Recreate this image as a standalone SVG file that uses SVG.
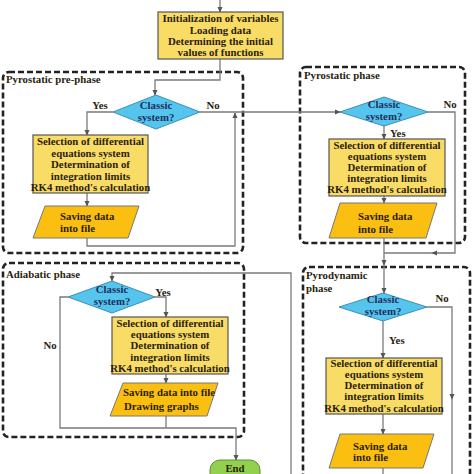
<svg xmlns="http://www.w3.org/2000/svg" width="474" height="474" viewBox="0 0 474 474">
<defs>
<style>
.t{font-family:"Liberation Serif","Times New Roman",serif;font-weight:bold;font-size:10.8px;fill:#2b1d0e;}
.c{text-anchor:middle;}
.dt{font-family:"Liberation Serif","Times New Roman",serif;font-weight:bold;font-size:10.8px;fill:#1f2d5c;text-anchor:middle;}
.box{fill:#f8dc66;stroke:#555;stroke-width:1.2;}
.io{fill:#fbbf12;stroke:#777;stroke-width:1;}
.dia{fill:#56c5ee;stroke:#3a8fb8;stroke-width:1;}
.phase{fill:none;stroke:#222;stroke-width:2.6;stroke-dasharray:6,3;}
.ln{fill:none;stroke:#7a7a7a;stroke-width:1.3;}
.ar{fill:none;stroke:#7a7a7a;stroke-width:1.3;marker-end:url(#ah);}
</style>
<marker id="ah" viewBox="0 0 8 8" refX="7" refY="4" markerWidth="6" markerHeight="6" orient="auto" markerUnits="userSpaceOnUse">
<path d="M0,0.5 L8,4 L0,7.5 z" fill="#555"/>
</marker>
</defs>
<rect width="474" height="474" fill="#ffffff"/>

<g id="phases">
<rect id="pyrostatic-pre-phase" class="phase" x="3" y="72" width="240" height="181" rx="6"/>
<rect id="pyrostatic-phase" class="phase" x="300" y="67" width="165" height="176" rx="6"/>
<rect id="adiabatic-phase" class="phase" x="3" y="263" width="241" height="174" rx="6"/>
<rect id="pyrodynamic-phase" class="phase" x="303" y="267" width="167" height="230" rx="6"/>
<text class="t" x="6" y="83">Pyrostatic pre-phase</text>
<text class="t" x="304" y="79">Pyrostatic phase</text>
<text class="t" x="6" y="278">Adiabatic phase</text>
<text class="t" x="306" y="279">Pyrodynamic</text>
<text class="t" x="306" y="292">phase</text>
</g>

<g id="connectors">
<path class="ar" d="M220,0 V12"/>
<path class="ar" d="M220,59 V80 H155 V95"/>
<path class="ar" d="M113,112 H87 V135"/>
<path class="ar" d="M87,193 V206"/>
<path class="ar" d="M87,238 V246 H235 V113"/>
<path class="ar" d="M200,112 H340"/>
<path class="ar" d="M384,126 V139"/>
<path class="ar" d="M384,196 V203"/>
<path class="ar" d="M428,112 H455 V253 H432"/>
<path class="ln" d="M433,253 H384"/>
<path class="ar" d="M384,238 V265"/>
<path class="ar" d="M384,264 V293"/>
<path class="ar" d="M427,307 H452 V399"/>
<path class="ln" d="M452,398 V474"/>
<path class="ar" d="M383,321 V358"/>
<path class="ar" d="M383,414 V434"/>
<path class="ln" d="M383,468 V474"/>
<path class="ar" d="M291,474 V273 H112 V281"/>
<path class="ar" d="M155,297 H166 V317"/>
<path class="ar" d="M166,374 V383"/>
<path class="ln" d="M166,416 V428"/>
<path class="ar" d="M68,297 H60 V428 H236 V460"/>
<text class="t c" x="100" y="109">Yes</text>
<text class="t c" x="213" y="109">No</text>
<text class="t c" x="450" y="108">No</text>
<text class="t" x="390" y="137">Yes</text>
<text class="t c" x="163" y="296">Yes</text>
<text class="t c" x="50" y="349">No</text>
<text class="t c" x="442" y="302">No</text>
<text class="t" x="389" y="344">Yes</text>
</g>

<g id="init">
<rect class="box" x="158" y="12" width="125" height="47"/>
<text class="t c" x="220.5" y="22">Initialization of variables</text>
<text class="t c" x="220.5" y="33.5">Loading data</text>
<text class="t c" x="220.5" y="45">Determining the initial</text>
<text class="t c" x="220.5" y="56">values of functions</text>
</g>

<g id="decision-pre">
<polygon class="dia" points="156,95 200,112 156,129 113,112"/>
<text class="dt" x="156" y="109">Classic</text>
<text class="dt" x="156" y="121">system?</text>
</g>
<g id="calc-pre">
<rect class="box" x="33" y="135" width="115" height="58"/>
<text class="t c" x="90.5" y="145">Selection of differential</text>
<text class="t c" x="90.5" y="156.5">equations system</text>
<text class="t c" x="90.5" y="168">Determination of</text>
<text class="t c" x="90.5" y="179.5">integration limits</text>
<text class="t c" x="90.5" y="191">RK4 method's calculation</text>
</g>
<g id="save-pre">
<polygon class="io" points="45,206 139,206 128,238 33,238"/>
<text class="t" x="60" y="220">Saving data</text>
<text class="t" x="60" y="232">into file</text>
</g>

<g id="decision-static">
<polygon class="dia" points="384,97 428,112 384,126 340,112"/>
<text class="dt" x="384" y="108">Classic</text>
<text class="dt" x="384" y="120">system?</text>
</g>
<g id="calc-static">
<rect class="box" x="329" y="139" width="116" height="57"/>
<text class="t c" x="387" y="149">Selection of differential</text>
<text class="t c" x="387" y="160">equations system</text>
<text class="t c" x="387" y="171">Determination of</text>
<text class="t c" x="387" y="182">integration limits</text>
<text class="t c" x="387" y="193">RK4 method's calculation</text>
</g>
<g id="save-static">
<polygon class="io" points="340,203 437,203 426,238 329,238"/>
<text class="t" x="358" y="220">Saving data</text>
<text class="t" x="358" y="233">into file</text>
</g>

<g id="decision-adiabatic">
<polygon class="dia" points="112,281 155,297 112,313 68,297"/>
<text class="dt" x="112" y="293">Classic</text>
<text class="dt" x="112" y="305">system?</text>
</g>
<g id="calc-adiabatic">
<rect class="box" x="112" y="317" width="116" height="57"/>
<text class="t c" x="170" y="327">Selection of differential</text>
<text class="t c" x="170" y="338">equations system</text>
<text class="t c" x="170" y="349">Determination of</text>
<text class="t c" x="170" y="360.5">integration limits</text>
<text class="t c" x="170" y="371.5">RK4 method's calculation</text>
</g>
<g id="save-adiabatic">
<polygon class="io" points="123,383 218,383 207,416 110,416"/>
<text class="t" x="123" y="396">Saving data into file</text>
<text class="t" x="124" y="410">Drawing graphs</text>
</g>
<g id="end">
<rect x="210" y="460" width="50" height="28" rx="10" fill="#92d050" stroke="#5e8f33" stroke-width="1"/>
<text class="t c" x="235" y="472">End</text>
</g>

<g id="decision-dynamic">
<polygon class="dia" points="383,293 427,307 383,321 339,307"/>
<text class="dt" x="383" y="303">Classic</text>
<text class="dt" x="383" y="315">system?</text>
</g>
<g id="calc-dynamic">
<rect class="box" x="326" y="358" width="116" height="56"/>
<text class="t c" x="384" y="367">Selection of differential</text>
<text class="t c" x="384" y="378">equations system</text>
<text class="t c" x="384" y="389">Determination of</text>
<text class="t c" x="384" y="400">integration limits</text>
<text class="t c" x="384" y="411.5">RK4 method's calculation</text>
</g>
<g id="save-dynamic">
<polygon class="io" points="340,434 434,434 423,468 329,468"/>
<text class="t" x="353" y="449.5">Saving data</text>
<text class="t" x="353" y="461">into file</text>
</g>
</svg>
